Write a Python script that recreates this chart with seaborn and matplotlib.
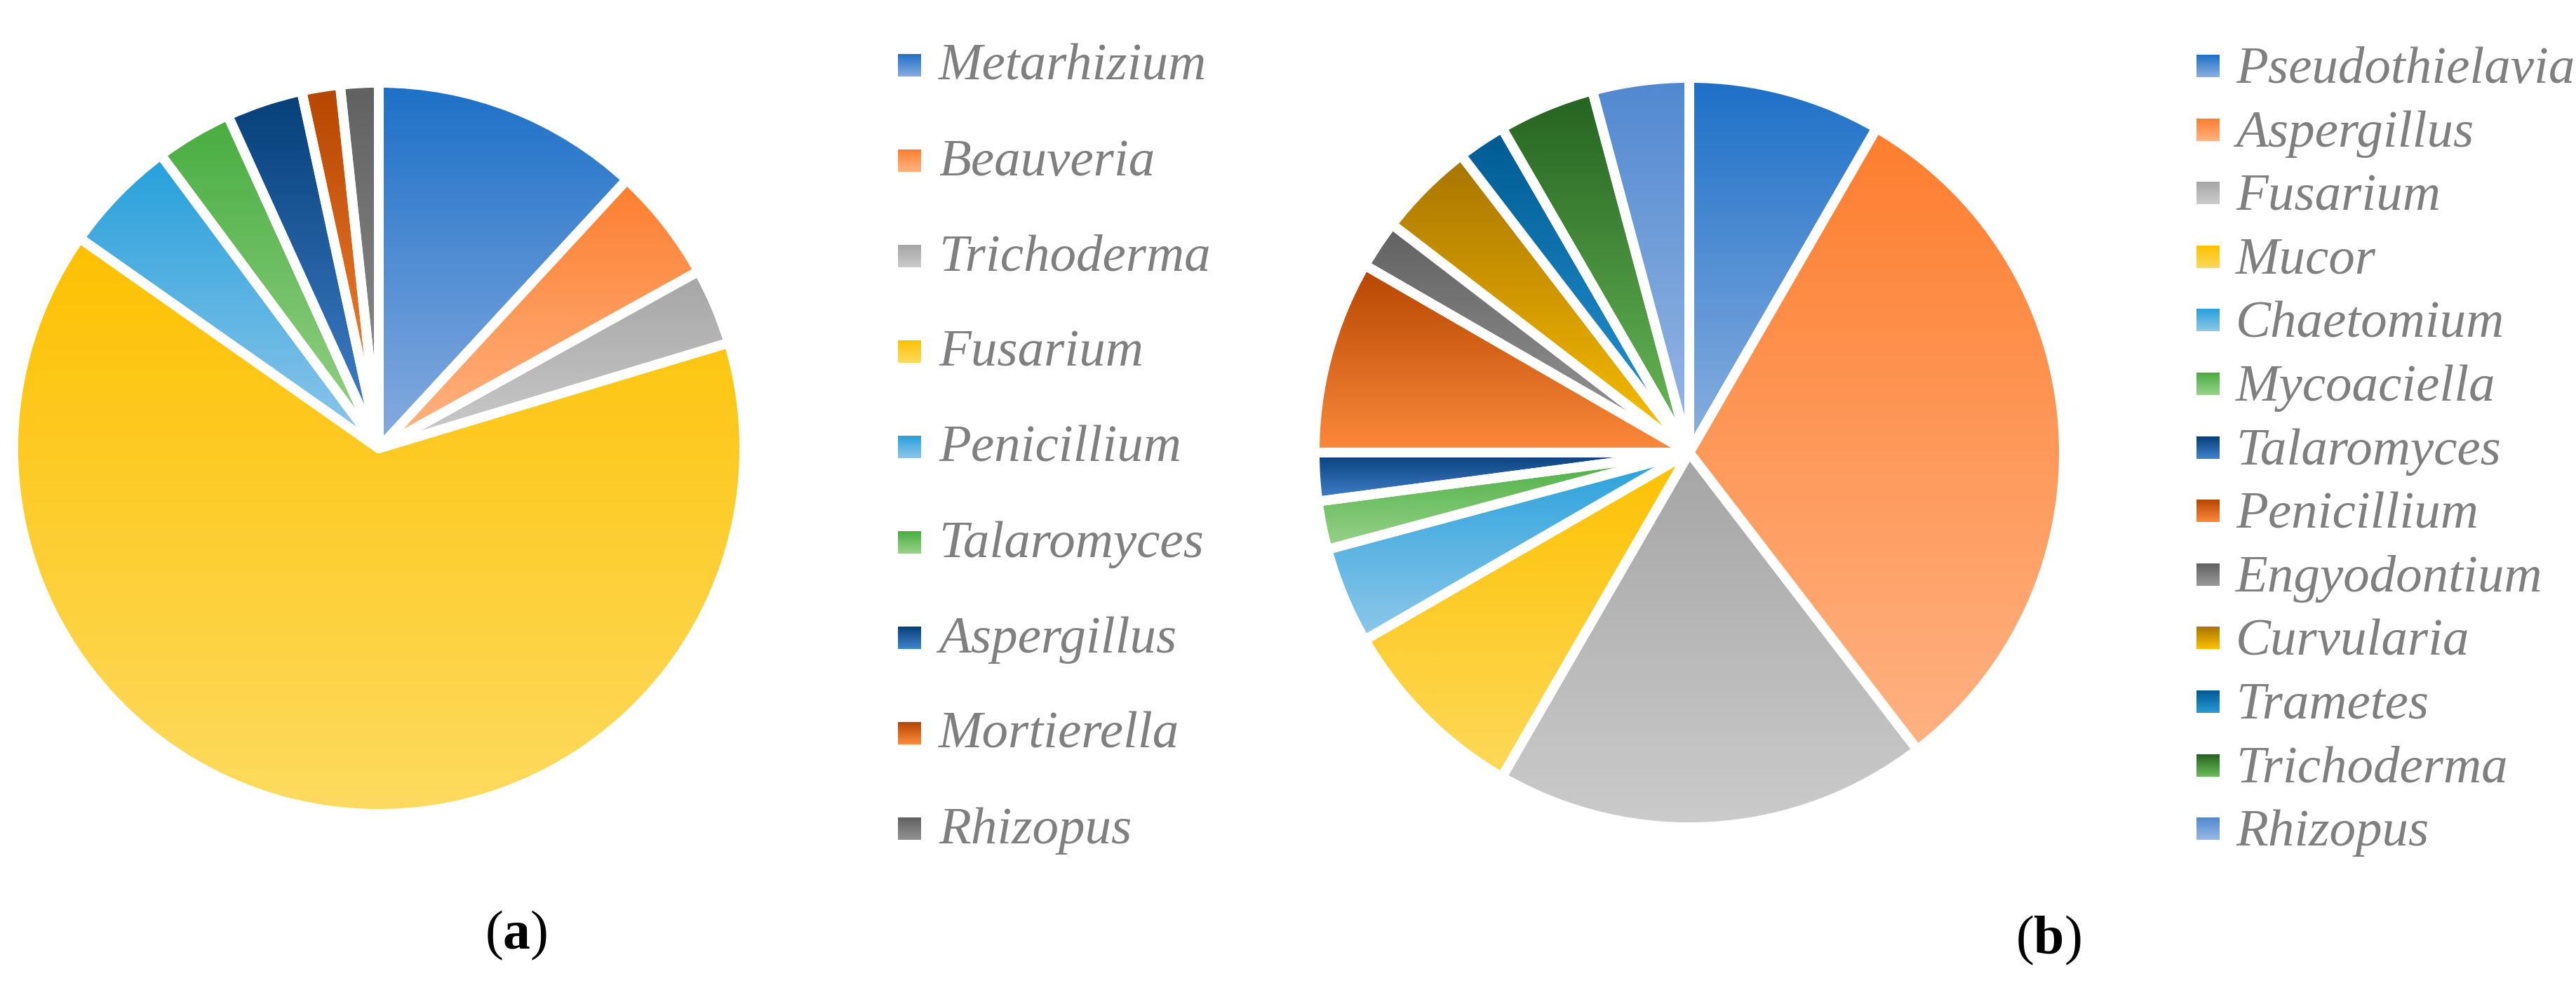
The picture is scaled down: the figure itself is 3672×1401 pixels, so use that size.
import numpy as np
import matplotlib
matplotlib.use("Agg")
import matplotlib.pyplot as plt
import seaborn as sns

# -----------------------------
# Data (isolate counts per genus)
# -----------------------------
genera_a = ["Metarhizium", "Beauveria", "Trichoderma", "Fusarium", "Penicillium",
            "Talaromyces", "Aspergillus", "Mortierella", "Rhizopus"]
counts_a = [7, 3, 2, 38, 3, 2, 2, 1, 1]

genera_b = ["Pseudothielavia", "Aspergillus", "Fusarium", "Mucor", "Chaetomium",
            "Mycoaciella", "Talaromyces", "Penicillium", "Engyodontium", "Curvularia",
            "Trametes", "Trichoderma", "Rhizopus"]
counts_b = [4, 15, 9, 4, 2, 1, 1, 4, 1, 2, 1, 2, 2]

# gradient colours (top -> bottom of each slice)
top_a = ["#1c70c8", "#fd7e2e", "#a5a5a5", "#fdc100", "#25a0db", "#47ad40",
         "#063f78", "#b54500", "#616161"]
bot_a = ["#88acdf", "#ffb585", "#cbcbcb", "#fddb60", "#90c7ea", "#9ad38b",
         "#4483cf", "#fc8c3c", "#939393"]

top_b = ["#1c70c8", "#fd7e2e", "#a5a5a5", "#fdc100", "#25a0db", "#47ad40",
         "#063f78", "#b54500", "#616161", "#a87400", "#005a92", "#256321", "#5088d0"]
bot_b = ["#8cb0e0", "#ffb283", "#cbcbcb", "#fdd95a", "#8fc8ea", "#9ad38b",
         "#4483cf", "#fd8a3b", "#9a9a9a", "#fdc100", "#2a9ad8", "#6cbd5a", "#9ab9e4"]

# -----------------------------
# Figure setup
# -----------------------------
sns.set_theme(style="white")
plt.rcParams["font.family"] = ["Liberation Serif", "DejaVu Serif"]
plt.rcParams["mathtext.fontset"] = "custom"
plt.rcParams["mathtext.rm"] = "Liberation Serif"
plt.rcParams["mathtext.bf"] = "Liberation Serif:bold"

W, H = 3673, 1401
fig = plt.figure(figsize=(W / 100, H / 100), dpi=100)
fig.patch.set_facecolor("white")

grad = np.linspace(0, 1, 256).reshape(-1, 1)


def gradient_pie(center, radius, counts, tops, bots):
    cx, cy = center
    left = (cx - radius) / W
    bottom = (H - cy - radius) / H
    ax = fig.add_axes([left, bottom, 2 * radius / W, 2 * radius / H])
    wedges, _ = ax.pie(counts, startangle=90, counterclock=False, radius=1)
    for w, c_top, c_bot in zip(wedges, tops, bots):
        ext = w.get_path().get_extents()
        cmap = sns.blend_palette([c_top, c_bot], n_colors=256, as_cmap=True)
        im = ax.imshow(grad, cmap=cmap, origin="upper", aspect="auto",
                       extent=[ext.x0, ext.x1, ext.y0, ext.y1], zorder=2)
        im.set_clip_path(w)
        w.set_facecolor("none")
        w.set_edgecolor("white")
        w.set_linewidth(10)
        w.set_joinstyle("round")
        w.set_zorder(3)
    ax.set_xlim(-1, 1)
    ax.set_ylim(-1, 1)
    ax.set_aspect("auto")
    ax.axis("off")
    return ax


gradient_pie((540, 639), 521, counts_a, top_a, bot_a)
gradient_pie((2408, 645), 534, counts_b, top_b, bot_b)

# -----------------------------
# Legends and panel labels (pixel overlay)
# -----------------------------
ov = fig.add_axes([0, 0, 1, 1], zorder=-1)
ov.set_xlim(0, W)
ov.set_ylim(H, 0)
ov.axis("off")


def gradient_legend(names, tops, bots, x_patch, x_text, y0, step, base_off):
    for i, (name, c_top, c_bot) in enumerate(zip(names, tops, bots)):
        y = y0 + i * step
        cmap = sns.blend_palette([c_top, c_bot], n_colors=256, as_cmap=True)
        ov.imshow(grad, cmap=cmap, origin="upper", aspect="auto",
                  extent=[x_patch, x_patch + 33, y + 16, y - 16])
        ov.text(x_text, y + base_off, name, ha="left", va="baseline",
                fontsize=54, style="italic", color="#7f7f7f")


gradient_legend(genera_a, top_a, bot_a, 1280, 1338, 93, 136, 21)
gradient_legend(genera_b, top_b, bot_b, 3131, 3187, 94, 90.6, 24)
ov.set_xlim(0, W)
ov.set_ylim(H, 0)

ov.text(736, 1333, r"($\mathbf{a}$)", ha="center", va="center", fontsize=56, color="black")
ov.text(2920, 1340, r"($\mathbf{b}$)", ha="center", va="center", fontsize=56, color="black")

plt.savefig("out.png", dpi=100, facecolor="white")
